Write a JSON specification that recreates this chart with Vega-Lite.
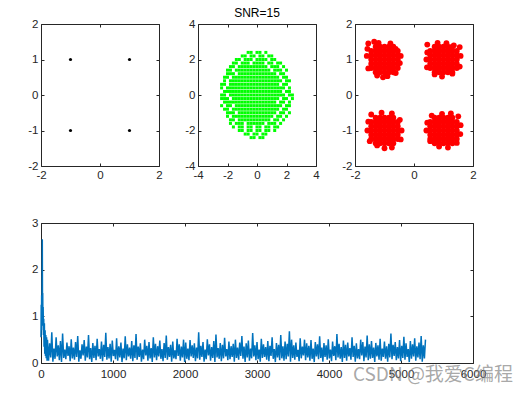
{
  "$schema": "https://vega.github.io/schema/vega-lite/v6.json",
  "background": "white",
  "padding": {"left": 27, "top": 6, "right": 5, "bottom": 5},
  "config": {
    "font": "Liberation Sans",
    "view": {"stroke": "#262626", "strokeWidth": 1},
    "axis": {"domain": false, "grid": false, "ticks": true, "tickSize": -3, "tickColor": "#262626", "tickWidth": 1, "labelFont": "Liberation Sans", "labelFontSize": 11.5, "labelColor": "#262626", "labelPadding": 6, "labelFlush": false, "labelOverlap": false},
    "title": {"font": "Liberation Sans", "fontSize": 12, "fontWeight": "normal", "color": "#000000"},
    "locale": {"number": {"decimal": ".", "thousands": "", "grouping": [3], "currency": ["$", ""], "minus": "-"}}
  },
  "datasets": {
    "ideal": [{"x": -1, "y": 1}, {"x": 1, "y": 1}, {"x": -1, "y": -1}, {"x": 1, "y": -1}],
    "noisy": [
      {"x":-0.6,"y":2.4},{"x":-0.4,"y":2.4},{"x":0,"y":2.4},{"x":0.2,"y":2.4},{"x":0.6,"y":2.4},
      {"x":-1,"y":2.2},{"x":-0.8,"y":2.2},{"x":-0.4,"y":2.2},{"x":-0.2,"y":2.2},{"x":0.2,"y":2.2},{"x":0.4,"y":2.2},{"x":0.8,"y":2.2},{"x":1,"y":2.2},
      {"x":-1.4,"y":2},{"x":-1.2,"y":2},{"x":-0.8,"y":2},{"x":-0.6,"y":2},{"x":-0.4,"y":2},{"x":0,"y":2},{"x":0.2,"y":2},{"x":0.4,"y":2},{"x":0.6,"y":2},{"x":1,"y":2},{"x":1.2,"y":2},
      {"x":-1.6,"y":1.8},{"x":-1.4,"y":1.8},{"x":-1,"y":1.8},{"x":-0.8,"y":1.8},{"x":-0.6,"y":1.8},{"x":-0.2,"y":1.8},{"x":0,"y":1.8},{"x":0.2,"y":1.8},{"x":0.4,"y":1.8},{"x":0.8,"y":1.8},{"x":1,"y":1.8},{"x":1.4,"y":1.8},{"x":1.6,"y":1.8},
      {"x":-1.8,"y":1.6},{"x":-1.6,"y":1.6},{"x":-1.2,"y":1.6},{"x":-1,"y":1.6},{"x":-0.8,"y":1.6},{"x":-0.6,"y":1.6},{"x":-0.4,"y":1.6},{"x":-0.2,"y":1.6},{"x":0,"y":1.6},{"x":0.2,"y":1.6},{"x":0.4,"y":1.6},{"x":0.6,"y":1.6},{"x":1,"y":1.6},{"x":1.2,"y":1.6},{"x":1.4,"y":1.6},{"x":1.8,"y":1.6},
      {"x":-2,"y":1.4},{"x":-1.8,"y":1.4},{"x":-1.4,"y":1.4},{"x":-1.2,"y":1.4},{"x":-1,"y":1.4},{"x":-0.8,"y":1.4},{"x":-0.6,"y":1.4},{"x":-0.4,"y":1.4},{"x":-0.2,"y":1.4},{"x":0,"y":1.4},{"x":0.2,"y":1.4},{"x":0.4,"y":1.4},{"x":0.6,"y":1.4},{"x":0.8,"y":1.4},{"x":1.2,"y":1.4},{"x":1.4,"y":1.4},{"x":1.6,"y":1.4},{"x":2,"y":1.4},
      {"x":-2,"y":1.2},{"x":-1.8,"y":1.2},{"x":-1.6,"y":1.2},{"x":-1.2,"y":1.2},{"x":-1,"y":1.2},{"x":-0.8,"y":1.2},{"x":-0.6,"y":1.2},{"x":-0.4,"y":1.2},{"x":-0.2,"y":1.2},{"x":0,"y":1.2},{"x":0.2,"y":1.2},{"x":0.4,"y":1.2},{"x":0.6,"y":1.2},{"x":0.8,"y":1.2},{"x":1,"y":1.2},{"x":1.2,"y":1.2},{"x":1.6,"y":1.2},{"x":1.8,"y":1.2},
      {"x":-2.2,"y":1},{"x":-2,"y":1},{"x":-1.6,"y":1},{"x":-1.4,"y":1},{"x":-1.2,"y":1},{"x":-1,"y":1},{"x":-0.8,"y":1},{"x":-0.6,"y":1},{"x":-0.4,"y":1},{"x":-0.2,"y":1},{"x":0,"y":1},{"x":0.2,"y":1},{"x":0.4,"y":1},{"x":0.6,"y":1},{"x":0.8,"y":1},{"x":1,"y":1},{"x":1.2,"y":1},{"x":1.4,"y":1},{"x":1.8,"y":1},{"x":2,"y":1},
      {"x":-2.2,"y":0.8},{"x":-1.8,"y":0.8},{"x":-1.6,"y":0.8},{"x":-1.4,"y":0.8},{"x":-1.2,"y":0.8},{"x":-1,"y":0.8},{"x":-0.8,"y":0.8},{"x":-0.6,"y":0.8},{"x":-0.4,"y":0.8},{"x":-0.2,"y":0.8},{"x":0,"y":0.8},{"x":0.2,"y":0.8},{"x":0.4,"y":0.8},{"x":0.6,"y":0.8},{"x":0.8,"y":0.8},{"x":1,"y":0.8},{"x":1.2,"y":0.8},{"x":1.4,"y":0.8},{"x":1.6,"y":0.8},{"x":2,"y":0.8},{"x":2.2,"y":0.8},
      {"x":-2.4,"y":0.6},{"x":-2.2,"y":0.6},{"x":-1.8,"y":0.6},{"x":-1.6,"y":0.6},{"x":-1.4,"y":0.6},{"x":-1.2,"y":0.6},{"x":-1,"y":0.6},{"x":-0.8,"y":0.6},{"x":-0.6,"y":0.6},{"x":-0.4,"y":0.6},{"x":-0.2,"y":0.6},{"x":0,"y":0.6},{"x":0.2,"y":0.6},{"x":0.4,"y":0.6},{"x":0.6,"y":0.6},{"x":0.8,"y":0.6},{"x":1,"y":0.6},{"x":1.2,"y":0.6},{"x":1.4,"y":0.6},{"x":1.8,"y":0.6},{"x":2,"y":0.6},
      {"x":-2.4,"y":0.4},{"x":-2,"y":0.4},{"x":-1.8,"y":0.4},{"x":-1.6,"y":0.4},{"x":-1.4,"y":0.4},{"x":-1.2,"y":0.4},{"x":-1,"y":0.4},{"x":-0.8,"y":0.4},{"x":-0.6,"y":0.4},{"x":-0.4,"y":0.4},{"x":-0.2,"y":0.4},{"x":0,"y":0.4},{"x":0.2,"y":0.4},{"x":0.4,"y":0.4},{"x":0.6,"y":0.4},{"x":0.8,"y":0.4},{"x":1,"y":0.4},{"x":1.2,"y":0.4},{"x":1.4,"y":0.4},{"x":1.6,"y":0.4},{"x":1.8,"y":0.4},{"x":2.2,"y":0.4},
      {"x":-2.2,"y":0.2},{"x":-2,"y":0.2},{"x":-1.8,"y":0.2},{"x":-1.6,"y":0.2},{"x":-1.4,"y":0.2},{"x":-1.2,"y":0.2},{"x":-1,"y":0.2},{"x":-0.8,"y":0.2},{"x":-0.6,"y":0.2},{"x":-0.4,"y":0.2},{"x":-0.2,"y":0.2},{"x":0,"y":0.2},{"x":0.2,"y":0.2},{"x":0.4,"y":0.2},{"x":0.6,"y":0.2},{"x":0.8,"y":0.2},{"x":1,"y":0.2},{"x":1.2,"y":0.2},{"x":1.4,"y":0.2},{"x":1.6,"y":0.2},{"x":2,"y":0.2},{"x":2.2,"y":0.2},
      {"x":-2.4,"y":0},{"x":-2.2,"y":0},{"x":-1.8,"y":0},{"x":-1.6,"y":0},{"x":-1.4,"y":0},{"x":-1.2,"y":0},{"x":-1,"y":0},{"x":-0.8,"y":0},{"x":-0.6,"y":0},{"x":-0.4,"y":0},{"x":-0.2,"y":0},{"x":0,"y":0},{"x":0.2,"y":0},{"x":0.4,"y":0},{"x":0.6,"y":0},{"x":0.8,"y":0},{"x":1,"y":0},{"x":1.2,"y":0},{"x":1.4,"y":0},{"x":1.6,"y":0},{"x":1.8,"y":0},{"x":2.2,"y":0},{"x":2.4,"y":0},
      {"x":-2.4,"y":-0.2},{"x":-2.2,"y":-0.2},{"x":-2,"y":-0.2},{"x":-1.6,"y":-0.2},{"x":-1.4,"y":-0.2},{"x":-1.2,"y":-0.2},{"x":-1,"y":-0.2},{"x":-0.8,"y":-0.2},{"x":-0.6,"y":-0.2},{"x":-0.4,"y":-0.2},{"x":-0.2,"y":-0.2},{"x":0,"y":-0.2},{"x":0.2,"y":-0.2},{"x":0.4,"y":-0.2},{"x":0.6,"y":-0.2},{"x":0.8,"y":-0.2},{"x":1,"y":-0.2},{"x":1.2,"y":-0.2},{"x":1.4,"y":-0.2},{"x":1.8,"y":-0.2},{"x":2,"y":-0.2},{"x":2.4,"y":-0.2},
      {"x":-2.2,"y":-0.4},{"x":-2,"y":-0.4},{"x":-1.8,"y":-0.4},{"x":-1.6,"y":-0.4},{"x":-1.4,"y":-0.4},{"x":-1.2,"y":-0.4},{"x":-1,"y":-0.4},{"x":-0.8,"y":-0.4},{"x":-0.6,"y":-0.4},{"x":-0.4,"y":-0.4},{"x":-0.2,"y":-0.4},{"x":0,"y":-0.4},{"x":0.2,"y":-0.4},{"x":0.4,"y":-0.4},{"x":0.6,"y":-0.4},{"x":0.8,"y":-0.4},{"x":1,"y":-0.4},{"x":1.2,"y":-0.4},{"x":1.6,"y":-0.4},{"x":1.8,"y":-0.4},{"x":2.2,"y":-0.4},
      {"x":-2.4,"y":-0.6},{"x":-2,"y":-0.6},{"x":-1.8,"y":-0.6},{"x":-1.4,"y":-0.6},{"x":-1.2,"y":-0.6},{"x":-1,"y":-0.6},{"x":-0.8,"y":-0.6},{"x":-0.6,"y":-0.6},{"x":-0.4,"y":-0.6},{"x":-0.2,"y":-0.6},{"x":0,"y":-0.6},{"x":0.2,"y":-0.6},{"x":0.4,"y":-0.6},{"x":0.6,"y":-0.6},{"x":0.8,"y":-0.6},{"x":1,"y":-0.6},{"x":1.2,"y":-0.6},{"x":1.4,"y":-0.6},{"x":1.6,"y":-0.6},{"x":2,"y":-0.6},{"x":2.2,"y":-0.6},
      {"x":-2.2,"y":-0.8},{"x":-2,"y":-0.8},{"x":-1.6,"y":-0.8},{"x":-1.4,"y":-0.8},{"x":-1.2,"y":-0.8},{"x":-1,"y":-0.8},{"x":-0.8,"y":-0.8},{"x":-0.6,"y":-0.8},{"x":-0.4,"y":-0.8},{"x":-0.2,"y":-0.8},{"x":0,"y":-0.8},{"x":0.2,"y":-0.8},{"x":0.4,"y":-0.8},{"x":0.6,"y":-0.8},{"x":0.8,"y":-0.8},{"x":1,"y":-0.8},{"x":1.2,"y":-0.8},{"x":1.4,"y":-0.8},{"x":1.8,"y":-0.8},{"x":2,"y":-0.8},
      {"x":-2,"y":-1},{"x":-1.8,"y":-1},{"x":-1.6,"y":-1},{"x":-1.2,"y":-1},{"x":-1,"y":-1},{"x":-0.8,"y":-1},{"x":-0.6,"y":-1},{"x":-0.4,"y":-1},{"x":-0.2,"y":-1},{"x":0,"y":-1},{"x":0.2,"y":-1},{"x":0.4,"y":-1},{"x":0.6,"y":-1},{"x":0.8,"y":-1},{"x":1,"y":-1},{"x":1.2,"y":-1},{"x":1.6,"y":-1},{"x":1.8,"y":-1},{"x":2.2,"y":-1},
      {"x":-2,"y":-1.2},{"x":-1.6,"y":-1.2},{"x":-1.4,"y":-1.2},{"x":-1.2,"y":-1.2},{"x":-1,"y":-1.2},{"x":-0.8,"y":-1.2},{"x":-0.6,"y":-1.2},{"x":-0.4,"y":-1.2},{"x":-0.2,"y":-1.2},{"x":0,"y":-1.2},{"x":0.2,"y":-1.2},{"x":0.4,"y":-1.2},{"x":0.6,"y":-1.2},{"x":0.8,"y":-1.2},{"x":1,"y":-1.2},{"x":1.4,"y":-1.2},{"x":1.6,"y":-1.2},{"x":2,"y":-1.2},
      {"x":-1.8,"y":-1.4},{"x":-1.6,"y":-1.4},{"x":-1.2,"y":-1.4},{"x":-1,"y":-1.4},{"x":-0.8,"y":-1.4},{"x":-0.6,"y":-1.4},{"x":-0.4,"y":-1.4},{"x":-0.2,"y":-1.4},{"x":0,"y":-1.4},{"x":0.2,"y":-1.4},{"x":0.4,"y":-1.4},{"x":0.6,"y":-1.4},{"x":0.8,"y":-1.4},{"x":1.2,"y":-1.4},{"x":1.4,"y":-1.4},{"x":1.8,"y":-1.4},
      {"x":-1.8,"y":-1.6},{"x":-1.4,"y":-1.6},{"x":-1.2,"y":-1.6},{"x":-1,"y":-1.6},{"x":-0.6,"y":-1.6},{"x":-0.4,"y":-1.6},{"x":-0.2,"y":-1.6},{"x":0,"y":-1.6},{"x":0.2,"y":-1.6},{"x":0.4,"y":-1.6},{"x":0.8,"y":-1.6},{"x":1,"y":-1.6},{"x":1.2,"y":-1.6},{"x":1.6,"y":-1.6},
      {"x":-1.6,"y":-1.8},{"x":-1.2,"y":-1.8},{"x":-1,"y":-1.8},{"x":-0.6,"y":-1.8},{"x":-0.4,"y":-1.8},{"x":0,"y":-1.8},{"x":0.2,"y":-1.8},{"x":0.6,"y":-1.8},{"x":0.8,"y":-1.8},{"x":1.2,"y":-1.8},{"x":1.4,"y":-1.8},
      {"x":-1.2,"y":-2},{"x":-1,"y":-2},{"x":-0.6,"y":-2},{"x":-0.4,"y":-2},{"x":0,"y":-2},{"x":0.2,"y":-2},{"x":0.6,"y":-2},{"x":0.8,"y":-2},{"x":1.2,"y":-2},
      {"x":-0.8,"y":-2.2},{"x":-0.6,"y":-2.2},{"x":-0.2,"y":-2.2},{"x":0,"y":-2.2},{"x":0.4,"y":-2.2},{"x":0.6,"y":-2.2},
      {"x":-0.4,"y":-2.4},{"x":-0.2,"y":-2.4},{"x":0.2,"y":-2.4},{"x":0.4,"y":-2.4}
    ],
    "recv": [
      {"x":-1.3,"y":0.64},{"x":-1.15,"y":0.64},{"x":-1,"y":0.64},{"x":-0.85,"y":0.64},{"x":-0.7,"y":0.64},
      {"x":-1.45,"y":0.76},{"x":-1.3,"y":0.76},{"x":-1.15,"y":0.76},{"x":-1,"y":0.76},{"x":-0.85,"y":0.76},{"x":-0.7,"y":0.76},{"x":-0.55,"y":0.76},
      {"x":-1.45,"y":0.88},{"x":-1.3,"y":0.88},{"x":-1.15,"y":0.88},{"x":-1,"y":0.88},{"x":-0.85,"y":0.88},{"x":-0.7,"y":0.88},{"x":-0.55,"y":0.88},
      {"x":-1.45,"y":1},{"x":-1.3,"y":1},{"x":-1.15,"y":1},{"x":-1,"y":1},{"x":-0.85,"y":1},{"x":-0.7,"y":1},{"x":-0.55,"y":1},
      {"x":-1.45,"y":1.12},{"x":-1.3,"y":1.12},{"x":-1.15,"y":1.12},{"x":-1,"y":1.12},{"x":-0.85,"y":1.12},{"x":-0.7,"y":1.12},{"x":-0.55,"y":1.12},
      {"x":-1.45,"y":1.24},{"x":-1.3,"y":1.24},{"x":-1.15,"y":1.24},{"x":-1,"y":1.24},{"x":-0.85,"y":1.24},{"x":-0.7,"y":1.24},{"x":-0.55,"y":1.24},
      {"x":-1.3,"y":1.36},{"x":-1.15,"y":1.36},{"x":-1,"y":1.36},{"x":-0.85,"y":1.36},{"x":-0.7,"y":1.36},
      {"x":-1.55,"y":1.45},{"x":-1.35,"y":1.5},{"x":-1.2,"y":1.47},{"x":-0.8,"y":1.45},{"x":-0.62,"y":1.3},{"x":-0.45,"y":1.1},{"x":-0.48,"y":0.9},{"x":-1.05,"y":0.5},{"x":-0.9,"y":0.53},{"x":-1.55,"y":0.75},{"x":-1.6,"y":1.1},{"x":-1.58,"y":1.3},{"x":-1.25,"y":0.55},{"x":-0.62,"y":0.62},
      {"x":0.7,"y":0.64},{"x":0.85,"y":0.64},{"x":1,"y":0.64},{"x":1.15,"y":0.64},{"x":1.3,"y":0.64},
      {"x":0.55,"y":0.76},{"x":0.7,"y":0.76},{"x":0.85,"y":0.76},{"x":1,"y":0.76},{"x":1.15,"y":0.76},{"x":1.3,"y":0.76},{"x":1.45,"y":0.76},
      {"x":0.55,"y":0.88},{"x":0.7,"y":0.88},{"x":0.85,"y":0.88},{"x":1,"y":0.88},{"x":1.15,"y":0.88},{"x":1.3,"y":0.88},{"x":1.45,"y":0.88},
      {"x":0.55,"y":1},{"x":0.7,"y":1},{"x":0.85,"y":1},{"x":1,"y":1},{"x":1.15,"y":1},{"x":1.3,"y":1},{"x":1.45,"y":1},
      {"x":0.55,"y":1.12},{"x":0.7,"y":1.12},{"x":0.85,"y":1.12},{"x":1,"y":1.12},{"x":1.15,"y":1.12},{"x":1.3,"y":1.12},{"x":1.45,"y":1.12},
      {"x":0.55,"y":1.24},{"x":0.7,"y":1.24},{"x":0.85,"y":1.24},{"x":1,"y":1.24},{"x":1.15,"y":1.24},{"x":1.3,"y":1.24},{"x":1.45,"y":1.24},
      {"x":0.7,"y":1.36},{"x":0.85,"y":1.36},{"x":1,"y":1.36},{"x":1.15,"y":1.36},{"x":1.3,"y":1.36},
      {"x":0.45,"y":1.42},{"x":0.8,"y":1.47},{"x":1.1,"y":1.46},{"x":1.35,"y":1.4},{"x":1.55,"y":1.35},{"x":1.58,"y":1.1},{"x":1.55,"y":0.8},{"x":1.3,"y":0.6},{"x":0.95,"y":0.52},{"x":0.7,"y":0.58},{"x":0.42,"y":1},{"x":0.45,"y":1.2},{"x":0.44,"y":0.78},
      {"x":-1.3,"y":-1.36},{"x":-1.15,"y":-1.36},{"x":-1,"y":-1.36},{"x":-0.85,"y":-1.36},{"x":-0.7,"y":-1.36},
      {"x":-1.45,"y":-1.24},{"x":-1.3,"y":-1.24},{"x":-1.15,"y":-1.24},{"x":-1,"y":-1.24},{"x":-0.85,"y":-1.24},{"x":-0.7,"y":-1.24},{"x":-0.55,"y":-1.24},
      {"x":-1.45,"y":-1.12},{"x":-1.3,"y":-1.12},{"x":-1.15,"y":-1.12},{"x":-1,"y":-1.12},{"x":-0.85,"y":-1.12},{"x":-0.7,"y":-1.12},{"x":-0.55,"y":-1.12},
      {"x":-1.45,"y":-1},{"x":-1.3,"y":-1},{"x":-1.15,"y":-1},{"x":-1,"y":-1},{"x":-0.85,"y":-1},{"x":-0.7,"y":-1},{"x":-0.55,"y":-1},
      {"x":-1.45,"y":-0.88},{"x":-1.3,"y":-0.88},{"x":-1.15,"y":-0.88},{"x":-1,"y":-0.88},{"x":-0.85,"y":-0.88},{"x":-0.7,"y":-0.88},{"x":-0.55,"y":-0.88},
      {"x":-1.45,"y":-0.76},{"x":-1.3,"y":-0.76},{"x":-1.15,"y":-0.76},{"x":-1,"y":-0.76},{"x":-0.85,"y":-0.76},{"x":-0.7,"y":-0.76},{"x":-0.55,"y":-0.76},
      {"x":-1.3,"y":-0.64},{"x":-1.15,"y":-0.64},{"x":-1,"y":-0.64},{"x":-0.85,"y":-0.64},{"x":-0.7,"y":-0.64},
      {"x":-1.45,"y":-0.55},{"x":-1.1,"y":-0.5},{"x":-0.75,"y":-0.52},{"x":-0.48,"y":-0.7},{"x":-0.42,"y":-1},{"x":-0.45,"y":-1.25},{"x":-0.75,"y":-1.48},{"x":-1,"y":-1.5},{"x":-1.25,"y":-1.42},{"x":-1.5,"y":-1.3},{"x":-1.58,"y":-1},{"x":-1.55,"y":-0.75},
      {"x":0.7,"y":-1.36},{"x":0.85,"y":-1.36},{"x":1,"y":-1.36},{"x":1.15,"y":-1.36},{"x":1.3,"y":-1.36},
      {"x":0.55,"y":-1.24},{"x":0.7,"y":-1.24},{"x":0.85,"y":-1.24},{"x":1,"y":-1.24},{"x":1.15,"y":-1.24},{"x":1.3,"y":-1.24},{"x":1.45,"y":-1.24},
      {"x":0.55,"y":-1.12},{"x":0.7,"y":-1.12},{"x":0.85,"y":-1.12},{"x":1,"y":-1.12},{"x":1.15,"y":-1.12},{"x":1.3,"y":-1.12},{"x":1.45,"y":-1.12},
      {"x":0.55,"y":-1},{"x":0.7,"y":-1},{"x":0.85,"y":-1},{"x":1,"y":-1},{"x":1.15,"y":-1},{"x":1.3,"y":-1},{"x":1.45,"y":-1},
      {"x":0.55,"y":-0.88},{"x":0.7,"y":-0.88},{"x":0.85,"y":-0.88},{"x":1,"y":-0.88},{"x":1.15,"y":-0.88},{"x":1.3,"y":-0.88},{"x":1.45,"y":-0.88},
      {"x":0.55,"y":-0.76},{"x":0.7,"y":-0.76},{"x":0.85,"y":-0.76},{"x":1,"y":-0.76},{"x":1.15,"y":-0.76},{"x":1.3,"y":-0.76},{"x":1.45,"y":-0.76},
      {"x":0.7,"y":-0.64},{"x":0.85,"y":-0.64},{"x":1,"y":-0.64},{"x":1.15,"y":-0.64},{"x":1.3,"y":-0.64},
      {"x":0.6,"y":-0.58},{"x":0.95,"y":-0.53},{"x":1.25,"y":-0.52},{"x":1.5,"y":-0.6},{"x":1.58,"y":-0.85},{"x":1.57,"y":-1.1},{"x":1.45,"y":-1.35},{"x":1.15,"y":-1.48},{"x":0.85,"y":-1.45},{"x":0.55,"y":-1.3},{"x":0.42,"y":-1},{"x":0.45,"y":-0.78}
    ],
    "err": [
      {"t":0,"v":0.55},{"t":3,"v":1.25},{"t":6,"v":0.7},{"t":9,"v":1.45},{"t":12,"v":0.9},{"t":15,"v":1.6},{"t":18,"v":2.65},{"t":21,"v":1.1},{"t":24,"v":1.5},{"t":27,"v":0.8},{"t":30,"v":1.2},{"t":34,"v":0.6},{"t":38,"v":0.95},{"t":42,"v":0.35},{"t":47,"v":0.85},{"t":52,"v":0.2},{"t":57,"v":0.7},{"t":62,"v":0.15},{"t":67,"v":0.6},{"t":72,"v":0.1},{"t":78,"v":0.55},{"t":84,"v":0.05},{"t":90,"v":0.5},
      {"t":105,"v":0.05},{"t":120,"v":0.42},{"t":135,"v":0.12},{"t":150,"v":0.66},{"t":165,"v":0.03},{"t":180,"v":0.31},{"t":195,"v":0.09},{"t":210,"v":0.55},{"t":225,"v":0.14},{"t":240,"v":0.38},{"t":255,"v":0.06},{"t":270,"v":0.47},{"t":285,"v":0.02},{"t":300,"v":0.63},{"t":315,"v":0.11},{"t":330,"v":0.29},{"t":345,"v":0.08},{"t":360,"v":0.44},{"t":375,"v":0.15},{"t":390,"v":0.36},
      {"t":405,"v":0.04},{"t":420,"v":0.51},{"t":435,"v":0.1},{"t":450,"v":0.33},{"t":465,"v":0.07},{"t":480,"v":0.45},{"t":495,"v":0.13},{"t":510,"v":0.58},{"t":525,"v":0.03},{"t":540,"v":0.27},{"t":555,"v":0.09},{"t":570,"v":0.4},{"t":585,"v":0.16},{"t":600,"v":0.49},{"t":615,"v":0.05},{"t":630,"v":0.35},{"t":645,"v":0.12},{"t":660,"v":0.6},{"t":675,"v":0.08},{"t":690,"v":0.32},
      {"t":705,"v":0.02},{"t":720,"v":0.43},{"t":735,"v":0.11},{"t":750,"v":0.37},{"t":765,"v":0.06},{"t":780,"v":0.52},{"t":795,"v":0.14},{"t":810,"v":0.3},{"t":825,"v":0.09},{"t":840,"v":0.46},{"t":855,"v":0.04},{"t":870,"v":0.39},{"t":885,"v":0.13},{"t":900,"v":0.65},{"t":915,"v":0.07},{"t":930,"v":0.34},{"t":945,"v":0.1},{"t":960,"v":0.41},{"t":975,"v":0.03},{"t":990,"v":0.48},
      {"t":1005,"v":0.15},{"t":1020,"v":0.28},{"t":1035,"v":0.08},{"t":1050,"v":0.53},{"t":1065,"v":0.05},{"t":1080,"v":0.36},{"t":1095,"v":0.12},{"t":1110,"v":0.44},{"t":1125,"v":0.02},{"t":1140,"v":0.31},{"t":1155,"v":0.1},{"t":1170,"v":0.57},{"t":1185,"v":0.06},{"t":1200,"v":0.4},{"t":1215,"v":0.14},{"t":1230,"v":0.33},{"t":1245,"v":0.09},{"t":1260,"v":0.47},{"t":1275,"v":0.04},{"t":1290,"v":0.38},
      {"t":1305,"v":0.11},{"t":1320,"v":0.62},{"t":1335,"v":0.07},{"t":1350,"v":0.35},{"t":1365,"v":0.13},{"t":1380,"v":0.42},{"t":1395,"v":0.03},{"t":1410,"v":0.29},{"t":1425,"v":0.08},{"t":1440,"v":0.5},{"t":1455,"v":0.16},{"t":1470,"v":0.37},{"t":1485,"v":0.05},{"t":1500,"v":0.45},{"t":1515,"v":0.1},{"t":1530,"v":0.32},{"t":1545,"v":0.02},{"t":1560,"v":0.55},{"t":1575,"v":0.12},{"t":1590,"v":0.41},
      {"t":1605,"v":0.06},{"t":1620,"v":0.36},{"t":1635,"v":0.14},{"t":1650,"v":0.48},{"t":1665,"v":0.09},{"t":1680,"v":0.3},{"t":1695,"v":0.04},{"t":1710,"v":0.43},{"t":1725,"v":0.11},{"t":1740,"v":0.59},{"t":1755,"v":0.07},{"t":1770,"v":0.34},{"t":1785,"v":0.13},{"t":1800,"v":0.39},{"t":1815,"v":0.03},{"t":1830,"v":0.46},{"t":1845,"v":0.1},{"t":1860,"v":0.27},{"t":1875,"v":0.08},{"t":1890,"v":0.52},
      {"t":1905,"v":0.15},{"t":1920,"v":0.4},{"t":1935,"v":0.05},{"t":1950,"v":0.35},{"t":1965,"v":0.12},{"t":1980,"v":0.5},{"t":1995,"v":0.02},{"t":2010,"v":0.44},{"t":2025,"v":0.09},{"t":2040,"v":0.31},{"t":2055,"v":0.06},{"t":2070,"v":0.49},{"t":2085,"v":0.14},{"t":2100,"v":0.38},{"t":2115,"v":0.11},{"t":2130,"v":0.42},{"t":2145,"v":0.04},{"t":2160,"v":0.33},{"t":2175,"v":0.1},{"t":2190,"v":0.66},
      {"t":2205,"v":0.07},{"t":2220,"v":0.37},{"t":2235,"v":0.13},{"t":2250,"v":0.45},{"t":2265,"v":0.03},{"t":2280,"v":0.29},{"t":2295,"v":0.08},{"t":2310,"v":0.51},{"t":2325,"v":0.16},{"t":2340,"v":0.4},{"t":2355,"v":0.05},{"t":2370,"v":0.34},{"t":2385,"v":0.11},{"t":2400,"v":0.47},{"t":2415,"v":0.02},{"t":2430,"v":0.61},{"t":2445,"v":0.12},{"t":2460,"v":0.32},{"t":2475,"v":0.09},{"t":2490,"v":0.43},
      {"t":2505,"v":0.04},{"t":2520,"v":0.39},{"t":2535,"v":0.1},{"t":2550,"v":0.54},{"t":2565,"v":0.14},{"t":2580,"v":0.3},{"t":2595,"v":0.06},{"t":2610,"v":0.46},{"t":2625,"v":0.08},{"t":2640,"v":0.36},{"t":2655,"v":0.13},{"t":2670,"v":0.41},{"t":2685,"v":0.03},{"t":2700,"v":0.5},{"t":2715,"v":0.11},{"t":2730,"v":0.33},{"t":2745,"v":0.07},{"t":2760,"v":0.44},{"t":2775,"v":0.15},{"t":2790,"v":0.58},
      {"t":2805,"v":0.09},{"t":2820,"v":0.35},{"t":2835,"v":0.02},{"t":2850,"v":0.42},{"t":2865,"v":0.12},{"t":2880,"v":0.48},{"t":2895,"v":0.05},{"t":2910,"v":0.31},{"t":2925,"v":0.1},{"t":2940,"v":0.64},{"t":2955,"v":0.14},{"t":2970,"v":0.38},{"t":2985,"v":0.06},{"t":3000,"v":0.45},{"t":3015,"v":0.08},{"t":3030,"v":0.29},{"t":3045,"v":0.03},{"t":3060,"v":0.52},{"t":3075,"v":0.11},{"t":3090,"v":0.4},
      {"t":3105,"v":0.13},{"t":3120,"v":0.34},{"t":3135,"v":0.07},{"t":3150,"v":0.47},{"t":3165,"v":0.04},{"t":3180,"v":0.37},{"t":3195,"v":0.15},{"t":3210,"v":0.55},{"t":3225,"v":0.09},{"t":3240,"v":0.3},{"t":3255,"v":0.02},{"t":3270,"v":0.43},{"t":3285,"v":0.12},{"t":3300,"v":0.39},{"t":3315,"v":0.06},{"t":3330,"v":0.6},{"t":3345,"v":0.1},{"t":3360,"v":0.36},{"t":3375,"v":0.05},{"t":3390,"v":0.46},
      {"t":3405,"v":0.08},{"t":3420,"v":0.41},{"t":3435,"v":0.14},{"t":3450,"v":0.68},{"t":3465,"v":0.03},{"t":3480,"v":0.5},{"t":3495,"v":0.11},{"t":3510,"v":0.38},{"t":3525,"v":0.07},{"t":3540,"v":0.44},{"t":3555,"v":0.13},{"t":3570,"v":0.28},{"t":3585,"v":0.04},{"t":3600,"v":0.53},{"t":3615,"v":0.1},{"t":3630,"v":0.35},{"t":3645,"v":0.16},{"t":3660,"v":0.5},{"t":3675,"v":0.06},{"t":3690,"v":0.42},
      {"t":3705,"v":0.12},{"t":3720,"v":0.37},{"t":3735,"v":0.05},{"t":3750,"v":0.49},{"t":3765,"v":0.09},{"t":3780,"v":0.31},{"t":3795,"v":0.02},{"t":3810,"v":0.45},{"t":3825,"v":0.14},{"t":3840,"v":0.4},{"t":3855,"v":0.08},{"t":3870,"v":0.57},{"t":3885,"v":0.11},{"t":3900,"v":0.33},{"t":3915,"v":0.03},{"t":3930,"v":0.43},{"t":3945,"v":0.13},{"t":3960,"v":0.38},{"t":3975,"v":0.07},{"t":3990,"v":0.51},
      {"t":4005,"v":0.1},{"t":4020,"v":0.29},{"t":4035,"v":0.04},{"t":4050,"v":0.46},{"t":4065,"v":0.15},{"t":4080,"v":0.36},{"t":4095,"v":0.06},{"t":4110,"v":0.62},{"t":4125,"v":0.12},{"t":4140,"v":0.41},{"t":4155,"v":0.09},{"t":4170,"v":0.34},{"t":4185,"v":0.02},{"t":4200,"v":0.48},{"t":4215,"v":0.11},{"t":4230,"v":0.39},{"t":4245,"v":0.05},{"t":4260,"v":0.44},{"t":4275,"v":0.14},{"t":4290,"v":0.32},
      {"t":4305,"v":0.07},{"t":4320,"v":0.55},{"t":4335,"v":0.13},{"t":4350,"v":0.37},{"t":4365,"v":0.03},{"t":4380,"v":0.42},{"t":4395,"v":0.1},{"t":4410,"v":0.3},{"t":4425,"v":0.08},{"t":4440,"v":0.5},{"t":4455,"v":0.16},{"t":4470,"v":0.45},{"t":4485,"v":0.04},{"t":4500,"v":0.35},{"t":4515,"v":0.12},{"t":4530,"v":0.59},{"t":4545,"v":0.06},{"t":4560,"v":0.4},{"t":4575,"v":0.09},{"t":4590,"v":0.47},
      {"t":4605,"v":0.11},{"t":4620,"v":0.33},{"t":4635,"v":0.02},{"t":4650,"v":0.43},{"t":4665,"v":0.14},{"t":4680,"v":0.38},{"t":4695,"v":0.07},{"t":4710,"v":0.52},{"t":4725,"v":0.05},{"t":4740,"v":0.31},{"t":4755,"v":0.13},{"t":4770,"v":0.46},{"t":4785,"v":0.09},{"t":4800,"v":0.36},{"t":4815,"v":0.03},{"t":4830,"v":0.41},{"t":4845,"v":0.12},{"t":4860,"v":0.63},{"t":4875,"v":0.08},{"t":4890,"v":0.39},
      {"t":4905,"v":0.15},{"t":4920,"v":0.45},{"t":4935,"v":0.06},{"t":4950,"v":0.34},{"t":4965,"v":0.1},{"t":4980,"v":0.49},{"t":4995,"v":0.04},{"t":5010,"v":0.37},{"t":5025,"v":0.11},{"t":5040,"v":0.56},{"t":5055,"v":0.07},{"t":5070,"v":0.42},{"t":5085,"v":0.13},{"t":5100,"v":0.3},{"t":5115,"v":0.02},{"t":5130,"v":0.47},{"t":5145,"v":0.09},{"t":5160,"v":0.4},{"t":5175,"v":0.14},{"t":5190,"v":0.53},
      {"t":5205,"v":0.05},{"t":5220,"v":0.36},{"t":5235,"v":0.12},{"t":5250,"v":0.44},{"t":5265,"v":0.08},{"t":5280,"v":0.58},{"t":5295,"v":0.03},{"t":5310,"v":0.38},{"t":5325,"v":0.1},{"t":5340,"v":0.5}
    ]
  },
  "spacing": 35,
  "vconcat": [
    {
      "bounds": "flush",
      "spacing": 39,
      "hconcat": [
        {
          "width": 118, "height": 142,
          "data": {"name": "ideal"},
          "layer": [
            {"mark": {"type": "circle", "color": "#000000", "size": 10, "opacity": 1},
             "encoding": {
               "x": {"field": "x", "type": "quantitative", "title": null, "scale": {"domain": [-2, 2], "nice": false}, "axis": {"values": [-2, 0, 2]}},
               "y": {"field": "y", "type": "quantitative", "title": null, "scale": {"domain": [-2, 2], "nice": false}, "axis": {"values": [-2, -1, 0, 1, 2]}}}},
            {"mark": {"type": "point", "opacity": 0},
             "encoding": {
               "x": {"field": "x", "type": "quantitative", "title": null, "scale": {"domain": [-2, 2], "nice": false}, "axis": {"values": [-2, 0, 2], "orient": "top", "labels": false}},
               "y": {"field": "y", "type": "quantitative", "title": null, "scale": {"domain": [-2, 2], "nice": false}, "axis": {"values": [-2, -1, 0, 1, 2], "orient": "right", "labels": false}}}}
          ],
          "resolve": {"axis": {"x": "independent", "y": "independent"}}
        },
        {
          "width": 118, "height": 142,
          "title": {"text": "SNR=15", "offset": -2},
          "data": {"name": "noisy"},
          "layer": [
            {"mark": {"type": "square", "color": "#00ff00", "size": 9, "opacity": 1},
             "encoding": {
               "x": {"field": "x", "type": "quantitative", "title": null, "scale": {"domain": [-4, 4], "nice": false}, "axis": {"values": [-4, -2, 0, 2, 4]}},
               "y": {"field": "y", "type": "quantitative", "title": null, "scale": {"domain": [-4, 4], "nice": false}, "axis": {"values": [-4, -2, 0, 2, 4]}}}},
            {"mark": {"type": "point", "opacity": 0},
             "encoding": {
               "x": {"field": "x", "type": "quantitative", "title": null, "scale": {"domain": [-4, 4], "nice": false}, "axis": {"values": [-4, -2, 0, 2, 4], "orient": "top", "labels": false}},
               "y": {"field": "y", "type": "quantitative", "title": null, "scale": {"domain": [-4, 4], "nice": false}, "axis": {"values": [-4, -2, 0, 2, 4], "orient": "right", "labels": false}}}}
          ],
          "resolve": {"axis": {"x": "independent", "y": "independent"}}
        },
        {
          "width": 118, "height": 142,
          "data": {"name": "recv"},
          "layer": [
            {"mark": {"type": "circle", "color": "#ff0000", "size": 34, "opacity": 1},
             "encoding": {
               "x": {"field": "x", "type": "quantitative", "title": null, "scale": {"domain": [-2, 2], "nice": false}, "axis": {"values": [-2, 0, 2]}},
               "y": {"field": "y", "type": "quantitative", "title": null, "scale": {"domain": [-2, 2], "nice": false}, "axis": {"values": [-2, -1, 0, 1, 2]}}}},
            {"mark": {"type": "point", "opacity": 0},
             "encoding": {
               "x": {"field": "x", "type": "quantitative", "title": null, "scale": {"domain": [-2, 2], "nice": false}, "axis": {"values": [-2, 0, 2], "orient": "top", "labels": false}},
               "y": {"field": "y", "type": "quantitative", "title": null, "scale": {"domain": [-2, 2], "nice": false}, "axis": {"values": [-2, -1, 0, 1, 2], "orient": "right", "labels": false}}}}
          ],
          "resolve": {"axis": {"x": "independent", "y": "independent"}}
        }
      ]
    },
    {
      "width": 432, "height": 140,
      "title": {"text": "CSDN @我爱C编程", "orient": "bottom", "anchor": "end", "frame": "group", "font": "Noto Sans CJK SC", "fontSize": 19, "fontWeight": "normal", "color": "rgba(130,130,130,0.7)", "offset": -14, "dx": 40},
      "data": {"name": "err"},
      "layer": [
        {"mark": {"type": "line", "color": "#0072bd", "strokeWidth": 1.5, "interpolate": "linear"},
         "encoding": {
           "x": {"field": "t", "type": "quantitative", "title": null, "scale": {"domain": [0, 6000], "nice": false}, "axis": {"values": [0, 1000, 2000, 3000, 4000, 5000, 6000], "labelPadding": 8}},
           "y": {"field": "v", "type": "quantitative", "title": null, "scale": {"domain": [0, 3], "nice": false}, "axis": {"values": [0, 1, 2, 3]}}}},
        {"mark": {"type": "point", "opacity": 0},
         "encoding": {
           "x": {"field": "t", "type": "quantitative", "title": null, "scale": {"domain": [0, 6000], "nice": false}, "axis": {"values": [0, 1000, 2000, 3000, 4000, 5000, 6000], "orient": "top", "labels": false}},
           "y": {"field": "v", "type": "quantitative", "title": null, "scale": {"domain": [0, 3], "nice": false}, "axis": {"values": [0, 1, 2, 3], "orient": "right", "labels": false}}}}
      ],
      "resolve": {"axis": {"x": "independent", "y": "independent"}}
    }
  ]
}
